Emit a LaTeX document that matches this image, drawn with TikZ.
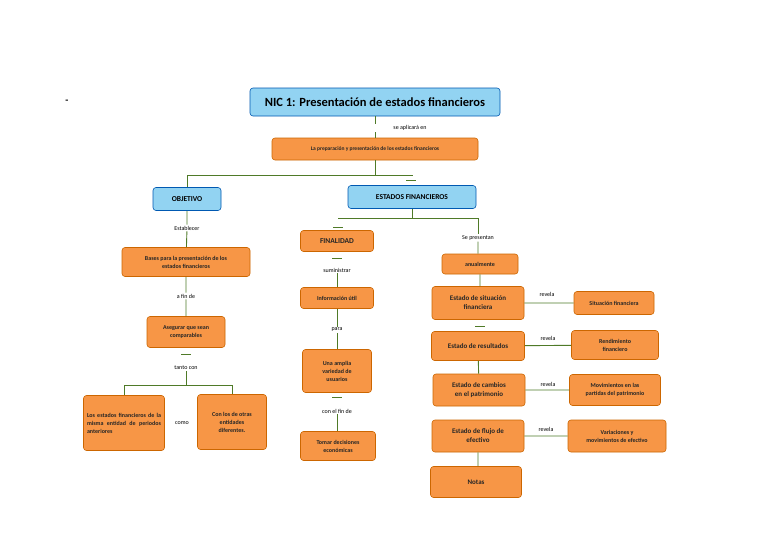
\documentclass[tikz,border=0pt]{standalone}
\usepackage{fontspec}
\setmainfont{Carlito}
\begin{document}
\begin{tikzpicture}[x=1pt,y=-1pt,
 ob/.style={draw=orange!80!black,fill=orgc,rounded corners=3pt,line width=0.6pt,align=center,font=\fontsize{6}{8}\selectfont\bfseries,inner sep=1pt,text=black!85},
 bb/.style={draw=blue!50!cyan!70!black,fill=bluc,rounded corners=3pt,line width=0.6pt,align=center,font=\fontsize{7.5}{9}\selectfont\bfseries,inner sep=1pt},
 lb/.style={font=\fontsize{6}{7}\selectfont,inner sep=1pt},
 ln/.style={draw=lnc,line width=0.9pt},
 ds/.style={draw=lnc,line width=0.8pt}]
\definecolor{orgc}{HTML}{F79646}
\definecolor{bluc}{HTML}{92D3F2}
\definecolor{lnc}{HTML}{4F7A28}
\useasboundingbox[fill=white] (0,0) rectangle (768,543);
\node[font=\bfseries] (st) at (67,102) {-};
\node[bb,minimum width=250,minimum height=28,font=\fontsize{12.5}{14}\selectfont\bfseries] (t) at (375,102) {NIC 1: Presentación de estados financieros};
\node[lb] (l1) at (410,128) {se aplicará en};
\node[ob,minimum width=206,minimum height=22,font=\fontsize{5.5}{7}\selectfont\bfseries] (p) at (375,149) {La preparación y presentación de los estados financieros};
\node[bb,minimum width=68,minimum height=23] (o) at (187,199) {OBJETIVO};
\node[bb,minimum width=128,minimum height=23] (e) at (412,197) {ESTADOS FINANCIEROS};
\coordinate (h1) at (375,175); \coordinate (h1l) at (187,175); \coordinate (h1r) at (413,175);
\draw[ln] (t) -- (l1.north -| t); \draw[ln] (p.north) -- (l1.south -| p);
\draw[ln] (p.south) -- (h1) (h1l) -- (h1r) (h1l) -- (o.north);
\draw[ds] (406,180) -- (416,180);
% OBJETIVO branch
\node[lb] (l2) at (187,228) {Establecer};
\node[ob,minimum width=128,minimum height=29] (b) at (186,262) {Bases para la presentación de los\\estados financieros};
\node[lb] (l3) at (186,296) {a fin de};
\node[ob,minimum width=78,minimum height=31] (a) at (186,332) {Asegurar que sean\\comparables};
\node[lb] (l4) at (186,368) {tanto con};
\node[ob,minimum width=81,minimum height=55,text width=74,align=justify] (le) at (124,423) {Los estados financieros de la misma entidad de periodos anteriores};
\node[lb] (co) at (182,423) {como};
\node[ob,minimum width=69,minimum height=55] (cl) at (232,422) {Con los de otras\\entidades\\diferentes.};
\draw[ln] (o) -- (l2) (l2) -- (b) (b) -- (l3) (l3) -- (a);
\draw[ds] (181,354) -- (191,354);
\coordinate (h2) at (186,385);
\draw[ln] (l4) -- (h2) (le.north |- h2) -- (cl.north |- h2) (le.north |- h2) -- (le.north) (cl.north |- h2) -- (cl.north);
% ESTADOS branch
\coordinate (h3) at (412,218); \coordinate (h3l) at (338,218); \coordinate (h3r) at (478,218);
\draw[ln] (e) -- (h3) (h3l) -- (h3r);
\draw[ds] (333,227) -- (343,227);
\node[ob,minimum width=73,minimum height=21,font=\fontsize{7.5}{9}\selectfont\bfseries] (f) at (337,241) {FINALIDAD};
\draw[ds] (332,258) -- (342,258);
\node[lb] (l5) at (337,270) {suministrar};
\node[ob,minimum width=73,minimum height=21] (iu) at (337,298) {Información útil};
\node[lb] (l6) at (337,330) {para};
\node[ob,minimum width=69,minimum height=43] (ua) at (337,371) {Una amplia\\variedad de\\usuarios};
\draw[ds] (332,397) -- (342,397);
\node[lb] (l7) at (337,411) {con el fin de};
\node[ob,minimum width=75,minimum height=29] (td) at (338,446) {Tomar decisiones\\económicas};
\draw[ln] (l5) -- (iu) (iu) -- (l6) (l6) -- (ua) (l7) -- (td.north -| l7);
\node[lb] (l8) at (478,238) {Se presentan};
\draw[ln] (h3r) -- (l8);
\node[ob,minimum width=76,minimum height=20] (an) at (480,264) {anualmente};
\node[ob,minimum width=92,minimum height=33,font=\fontsize{7}{9}\selectfont\bfseries] (s1) at (478,303) {Estado de situación\\financiera};
\node[ob,minimum width=93,minimum height=29,font=\fontsize{7}{9}\selectfont\bfseries] (s2) at (478,346) {Estado de resultados};
\node[ob,minimum width=92,minimum height=32,font=\fontsize{7}{9}\selectfont\bfseries] (s3) at (479,390) {Estado de cambios\\en el patrimonio};
\node[ob,minimum width=92,minimum height=32,font=\fontsize{7}{9}\selectfont\bfseries] (s4) at (478,436) {Estado de flujo de\\efectivo};
\node[ob,minimum width=91,minimum height=31,font=\fontsize{7}{9}\selectfont\bfseries] (s5) at (476,482) {Notas};
\node[ob,minimum width=80,minimum height=23] (r1) at (614,303) {Situación financiera};
\node[ob,minimum width=87,minimum height=29] (r2) at (615,345) {Rendimiento\\financiero};
\node[ob,minimum width=91,minimum height=31] (r3) at (615,390) {Movimientos en las\\partidas del patrimonio};
\node[ob,minimum width=98,minimum height=32] (r4) at (617,436) {Variaciones y\\movimientos de efectivo};
\draw[ln] (l8) -- (an.north -| l8) (an) -- (s1.north -| an) (s2) -- (s3) (s4) -- (s5.north -| s4);
\draw[ds] (475,326) -- (485,326);
\draw[ln] (s1) -- (r1) (s2) -- (r2) (s3) -- (r3) (s4) -- (r4);
\node[lb] at (547,294) {revela}; \node[lb] at (548,338) {revela};
\node[lb] at (548,384) {revela}; \node[lb] at (546,429) {revela};
\end{tikzpicture}
\end{document}
